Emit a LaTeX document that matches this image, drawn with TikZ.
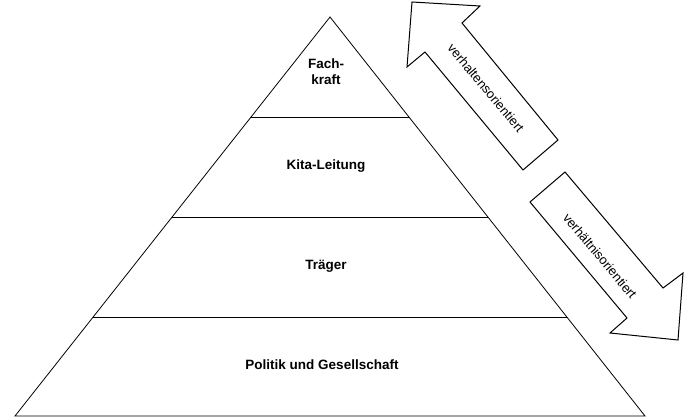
\documentclass[tikz,border=0pt]{standalone}
\usepackage{fontspec}
\setmainfont{Liberation Sans}
\begin{document}
\begin{tikzpicture}[x=1pt,y=-1pt,line join=miter,
  lvl/.style={font=\bfseries\fontsize{13.5}{16}\selectfont,align=center},
  arr/.style={draw=black,line width=1pt,fill=white},
  arrtext/.style={font=\fontsize{13}{15}\selectfont}]
\useasboundingbox (0,0) rectangle (685,419);
\coordinate (A) at (330,17);
\coordinate (L) at (15,416);
\coordinate (R) at (645,416);
\draw[line width=0.8pt] (A) -- (L) -- (R) -- cycle;
\draw[line width=0.8pt] (251,117) -- (409,117);
\draw[line width=0.8pt] (172,217) -- (488,217);
\draw[line width=0.8pt] (93,317) -- (567,317);
\node[lvl] (f) at (326,72) {Fach-\\kraft};
\node[lvl] (k) at (326,166) {Kita-Leitung};
\node[lvl] (t) at (326,266) {Träger};
\node[lvl] (p) at (322,365) {Politik und Gesellschaft};
\draw[arr] (412,2) -- (480,6) -- (462,23) -- (558,140) -- (523,170) -- (425,52) -- (407,67) -- cycle;
\draw[arr] (678,340) -- (610,333) -- (627,318) -- (530,202) -- (565,172) -- (663,288) -- (683,273) -- cycle;
\node[arrtext,rotate=-50] (u) at (486,88) {verhaltensorientiert};
\node[arrtext,rotate=-50] (d) at (600,256) {verhältnisorientiert};
\end{tikzpicture}
\end{document}
